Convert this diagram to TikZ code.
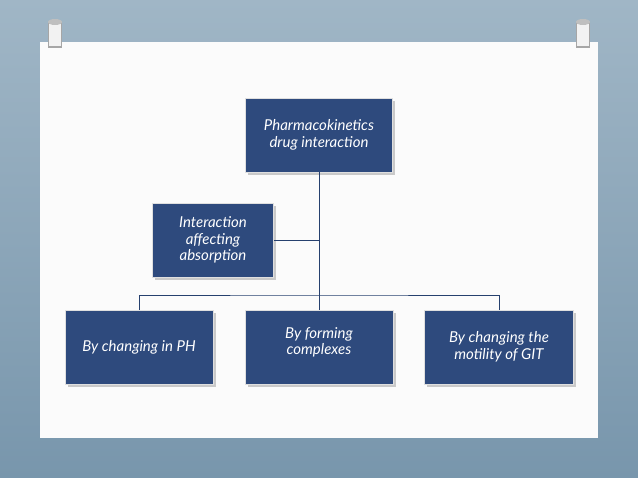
\documentclass[tikz,border=0pt]{standalone}
\usepackage{fontspec}
\setmainfont{Lato}
\usetikzlibrary{shadows}
\definecolor{boxblue}{RGB}{46,74,125}
\definecolor{lineblue}{RGB}{38,64,110}
\definecolor{bgA}{RGB}{120,150,172}
\definecolor{bgB}{RGB}{160,182,198}
\begin{document}
\begin{tikzpicture}[x=1pt,y=-1pt,
  box/.style={draw=white!75!gray,line width=0.6pt,fill=boxblue,text=white,font=\itshape\fontsize{15}{16.5}\selectfont,align=center,inner sep=2pt,drop shadow={opacity=0.4}},
  conn/.style={draw=lineblue,line width=0.8pt}]
\shade[top color=bgB,bottom color=bgA] (0,0) rectangle (638,478);
\fill[white!97!gray] (40,42) rectangle (598,438);
\foreach \px in {55,583}{
  \fill[gray!70] (\px-7,22) rectangle (\px+7,48);
  \fill[white!90!gray] (\px-6,24) rectangle (\px+6,46);
  \fill[gray!50] (\px,22) ellipse[x radius=7,y radius=3];
}
\node[box,minimum width=147pt,minimum height=74pt] (top) at (319,135) {Pharmacokinetics\\drug interaction};
\node[box,minimum width=121pt,minimum height=74pt] (abs) at (213,240) {Interaction\\affecting\\absorption};
\node[box,minimum width=148pt,minimum height=74pt] (b1) at (139,347) {By changing in PH};
\node[box,minimum width=148pt,minimum height=74pt,text depth=12pt] (b2) at (319,347) {By forming\\complexes};
\node[box,minimum width=149pt,minimum height=74pt] (b3) at (499,347) {By changing the\\motility of GIT};
\coordinate (j) at (319,295);
\draw[conn] (top.south) -- (j);
\draw[conn] (abs.east) -- (abs.east -| top.south);
\draw[conn] (b1.north) |- (j) -| (b3.north);
\draw[conn] (j) -- (b2.north);
\end{tikzpicture}
\end{document}
